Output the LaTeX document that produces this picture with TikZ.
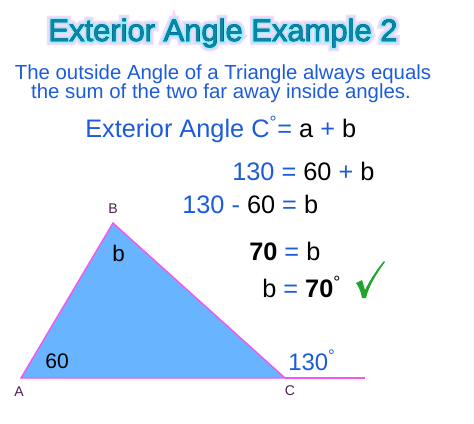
\documentclass[tikz,border=0pt]{standalone}
\usepackage{fontspec}
\setmainfont{Liberation Sans}
\usepackage{xcolor}
\usepackage{tikz}
\definecolor{eqblue}{RGB}{28,92,218}
\definecolor{trifill}{RGB}{104,180,255}
\definecolor{triedge}{RGB}{245,85,240}
\definecolor{vertexcol}{RGB}{78,30,82}
\definecolor{titleteal}{RGB}{0,90,125}
\definecolor{titleinner}{RGB}{12,135,170}
\definecolor{titleglow}{RGB}{150,240,252}
\definecolor{pinkglow}{RGB}{250,215,248}
\definecolor{tickgreen}{RGB}{30,165,45}
\newcommand{\degsign}{\textsuperscript{°}}
\newcommand{\glowtext}[1]{%
    \rlap{\color{pinkglow}\addfontfeature{FakeBold=26}#1}%
    \rlap{\color{titleglow}\addfontfeature{FakeBold=13}#1}%
    \rlap{\color{titleteal}\addfontfeature{FakeBold=2}#1}%
    {\color{titleinner}#1}}

\begin{document}
\begin{tikzpicture}[x=0.025cm,y=-0.025cm,
            title/.style={anchor=base, font=\fontsize{22}{26}\selectfont},
            rule/.style={anchor=base, text=eqblue, font=\fontsize{14.5}{17}\selectfont},
            eq/.style={anchor=base west, inner sep=0pt, font=\fontsize{18}{21}\selectfont},
            vert/.style={anchor=base, inner sep=0pt, text=vertexcol, font=\fontsize{10}{12}\selectfont},
            ang/.style={anchor=base west, inner sep=0pt}]
        \useasboundingbox (0,0) rectangle (474,423);

        \node[title] (heading) at (223,41) {\glowtext{Exterior Angle Example 2}};

        \node[rule] (ruleA) at (223,79) {The outside Angle of a Triangle always equals};
        \node[rule] (ruleB) at (221,98) {the sum of the two far away inside angles.};

        \node[eq] (law) at (85,137) {\textcolor{eqblue}{Exterior Angle C\degsign=} a \textcolor{eqblue}{+} b};
        \node[eq] (stepA) at (232,180) {\textcolor{eqblue}{130 =} 60 \textcolor{eqblue}{+} b};
        \node[eq] (stepB) at (182,213) {\textcolor{eqblue}{130 -} 60 \textcolor{eqblue}{=} b};
        \node[eq] (stepC) at (249,260) {\textbf{70} \textcolor{eqblue}{=} b};
        \node[eq] (answer) at (262,297) {b \textcolor{eqblue}{=} \textbf{70}\degsign};

        \fill[tickgreen] (356,283) .. controls (359,281) .. (362,280) -- (365,290)
            .. controls (371,278) and (378,268) .. (384,261) -- (385,262)
            .. controls (377,273) and (369,285) .. (366,298) -- (362,298)
            .. controls (361,292) and (359,287) .. (356,283) -- cycle;

        \coordinate (A) at (21,378);
        \coordinate (B) at (113,223);
        \coordinate (C) at (285,378);
        \coordinate (ray) at (365,378);
        \filldraw[fill=trifill, draw=triedge, line width=1pt] (A) -- (B) -- (C) -- cycle;
        \draw[triedge, line width=1pt] (C) -- (ray);

        \node[vert] (labA) at (19,396) {A};
        \node[vert] (labB) at (113,213) {B};
        \node[vert] (labC) at (290,395) {C};
        \node[ang, font=\fontsize{16}{19}\selectfont] (angB) at (112,261) {b};
        \node[ang, font=\fontsize{15}{18}\selectfont] (angA) at (45,368) {60};
        \node[ang, text=eqblue, font=\fontsize{17}{20}\selectfont] (extC) at (288,370) {130\degsign};
\end{tikzpicture}
\end{document}
